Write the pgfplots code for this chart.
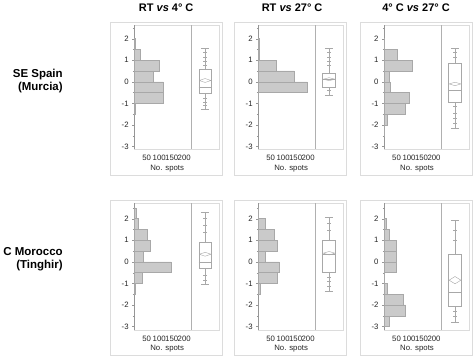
\documentclass[border=0pt]{standalone}
\usepackage{fontspec}
\setmainfont{Liberation Sans}
\usepackage{pgfplots}
\pgfplotsset{compat=1.18}
\usepgfplotslibrary{statistics}
\definecolor{barfill}{RGB}{202,202,202}
\definecolor{baredge}{RGB}{168,168,168}
\definecolor{framec}{RGB}{220,220,220}
\definecolor{axisc}{RGB}{150,150,150}
\definecolor{boxc}{RGB}{168,168,168}
\pgfplotsset{
  hist/.style={scale only axis, width=57pt, xmin=0, xmax=228,
    axis x line*=bottom, axis y line*=left,
    x axis line style={draw=none}, y axis line style={draw=axisc},
    ytick={-3,-2,-1,0,1,2}, yticklabels={-3,-2,-1,0,1,2},
    minor ytick={-2.5,-1.5,-0.5,0.5,1.5,2.5},
    xtick={50,100,150,200},
    tick align=outside, major tick length=2pt, minor tick length=1.3pt,
    ytick style={draw=axisc}, xtick style={draw=none},
    ticklabel style={font=\fontsize{7.8}{9}\selectfont, text=black!85},
    /pgf/number format/assume math mode=true},
  toprow/.style={height=124pt, ymin=-3.12, ymax=2.62},
  botrow/.style={height=127pt, ymin=-3.16, ymax=2.72},
  boxax/.style={scale only axis, width=28pt, xmin=0, xmax=1, hide axis},
  bars/.style={xbar interval, fill=barfill, draw=baredge, line width=0.4pt},
  rug/.style={only marks, mark=-, mark size=1.9pt, mark options={draw=boxc, line width=0.4pt}},
  diam/.style={draw=boxc, line width=0.4pt},
}
\newcommand{\bp}[5]{\addplot[draw=boxc, line width=0.4pt, boxplot prepared={draw direction=y, draw position=0.5, lower whisker=#1, lower quartile=#2, median=#3, upper quartile=#4, upper whisker=#5, box extend=0.46, whisker extend=0.3}] coordinates {};}
\begin{document}
\begin{tikzpicture}
\path (0,0) rectangle (474pt,-358pt);
% titles
\node[font=\bfseries\fontsize{11}{13}\selectfont] at (166pt,-7pt) {RT \textit{vs} 4° C};
\node[font=\bfseries\fontsize{11}{13}\selectfont] at (292pt,-7pt) {RT \textit{vs} 27° C};
\node[font=\bfseries\fontsize{11}{13}\selectfont] at (416pt,-7pt) {4° C \textit{vs} 27° C};
% row labels
\node[anchor=east, align=right, font=\bfseries\fontsize{11.5}{13}\selectfont] at (66pt,-80.5pt) {SE Spain\\(Murcia)};
\node[anchor=east, align=right, font=\bfseries\fontsize{11.5}{13}\selectfont] at (66pt,-259.5pt) {C Morocco\\(Tinghir)};
% frames
\foreach \A in {134,258,384}{
  \draw[framec, line width=0.5pt] (\A pt-24pt,-22pt) rectangle (\A pt+88pt,-175pt);
  \draw[framec, line width=0.5pt] (\A pt,-25pt) rectangle (\A pt+85pt,-149pt);
  \draw[framec!80!black, line width=0.5pt] (\A pt+57pt,-25pt) -- (\A pt+57pt,-149pt);
  \node[font=\fontsize{7.8}{9}\selectfont, text=black!85] at (\A pt+33pt,-168pt) {No. spots};
  \draw[framec, line width=0.5pt] (\A pt-24pt,-200pt) rectangle (\A pt+88pt,-355pt);
  \draw[framec, line width=0.5pt] (\A pt,-203pt) rectangle (\A pt+85pt,-330pt);
  \draw[framec!80!black, line width=0.5pt] (\A pt+57pt,-203pt) -- (\A pt+57pt,-330pt);
  \node[font=\fontsize{7.8}{9}\selectfont, text=black!85] at (\A pt+33pt,-349pt) {No. spots};
}
% ---------- Top row ----------
\begin{axis}[hist, toprow, at={(134pt,-149pt)}, anchor=south west]
\addplot[bars] coordinates {(2,-1.5) (117,-1) (117,-0.5) (77,0) (100,0.5) (24,1) (3,1.5) (0,2)};
\end{axis}
\begin{axis}[boxax, toprow, at={(191pt,-149pt)}, anchor=south west]
\bp{-1.28}{-0.54}{-0.23}{0.57}{1.57}
\addplot[diam] coordinates {(0.29,0.06) (0.5,0.15) (0.71,0.06) (0.5,-0.03) (0.29,0.06)};
\addplot[rug] coordinates {(0.5,1.35) (0.5,1.15) (0.5,0.95) (0.5,0.77) (0.5,-0.77) (0.5,-0.95) (0.5,-1.1)};
\end{axis}
\begin{axis}[hist, toprow, at={(258pt,-149pt)}, anchor=south west]
\addplot[bars] coordinates {(2,-1) (197,-0.5) (144,0) (71,0.5) (6,1) (3,1.5) (0,2)};
\end{axis}
\begin{axis}[boxax, toprow, at={(315pt,-149pt)}, anchor=south west]
\bp{-0.62}{-0.26}{0.11}{0.42}{1.57}
\addplot[diam] coordinates {(0.29,0.12) (0.5,0.19) (0.71,0.12) (0.5,0.05) (0.29,0.12)};
\addplot[rug] coordinates {(0.5,1.38) (0.5,1.15) (0.5,0.95) (0.5,0.77) (0.5,-0.4)};
\end{axis}
\begin{axis}[hist, toprow, at={(384pt,-149pt)}, anchor=south west]
\addplot[bars] coordinates {(1,-2.5) (11,-2) (85,-1.5) (102,-1) (25,-0.5) (21,0) (111,0.5) (54,1) (2,1.5) (0,2)};
\end{axis}
\begin{axis}[boxax, toprow, at={(441pt,-149pt)}, anchor=south west]
\bp{-2.15}{-0.95}{-0.38}{0.85}{1.57}
\addplot[diam] coordinates {(0.29,-0.1) (0.5,-0.02) (0.71,-0.1) (0.5,-0.18) (0.29,-0.1)};
\addplot[rug] coordinates {(0.5,1.38) (0.5,1.15) (0.5,-1.15) (0.5,-1.46) (0.5,-1.7) (0.5,-1.92)};
\end{axis}
% ---------- Bottom row ----------
\begin{axis}[hist, botrow, at={(134pt,-330pt)}, anchor=south west]
\addplot[bars] coordinates {(2,-1.5) (33,-1) (148,-0.5) (36,0) (64,0.5) (53,1) (16,1.5) (7,2) (0,2.5)};
\end{axis}
\begin{axis}[boxax, botrow, at={(191pt,-330pt)}, anchor=south west]
\bp{-1.03}{-0.28}{0.0}{0.92}{2.28}
\addplot[diam] coordinates {(0.29,0.35) (0.5,0.44) (0.71,0.35) (0.5,0.26) (0.29,0.35)};
\addplot[rug] coordinates {(0.5,2.0) (0.5,1.69) (0.5,1.38) (0.5,-0.62) (0.5,-0.85)};
\end{axis}
\begin{axis}[hist, botrow, at={(258pt,-330pt)}, anchor=south west]
\addplot[bars] coordinates {(7,-1.5) (78,-1) (84,-0.5) (27,0) (78,0.5) (63,1) (27,1.5) (2,2) (0,2.5)};
\end{axis}
\begin{axis}[boxax, botrow, at={(315pt,-330pt)}, anchor=south west]
\bp{-1.34}{-0.46}{0.35}{1.0}{2.08}
\addplot[diam] coordinates {(0.29,0.4) (0.5,0.48) (0.71,0.4) (0.5,0.32) (0.29,0.4)};
\addplot[rug] coordinates {(0.5,1.77) (0.5,1.46) (0.5,-0.69) (0.5,-0.92) (0.5,-1.15)};
\end{axis}
\begin{axis}[hist, botrow, at={(384pt,-330pt)}, anchor=south west]
\addplot[bars] coordinates {(22,-3) (86,-2.5) (75,-2) (14,-1.5) (1,-1) (47,-0.5) (47,0) (47,0.5) (22,1) (9,1.5) (0,2)};
\end{axis}
\begin{axis}[boxax, botrow, at={(441pt,-330pt)}, anchor=south west]
\bp{-2.82}{-2.05}{-1.42}{0.34}{1.92}
\addplot[diam] coordinates {(0.29,-0.85) (0.5,-0.68) (0.71,-0.85) (0.5,-1.02) (0.29,-0.85)};
\addplot[rug] coordinates {(0.5,1.46) (0.5,1.0) (0.5,-2.3) (0.5,-2.54)};
\end{axis}
\end{tikzpicture}
\end{document}
